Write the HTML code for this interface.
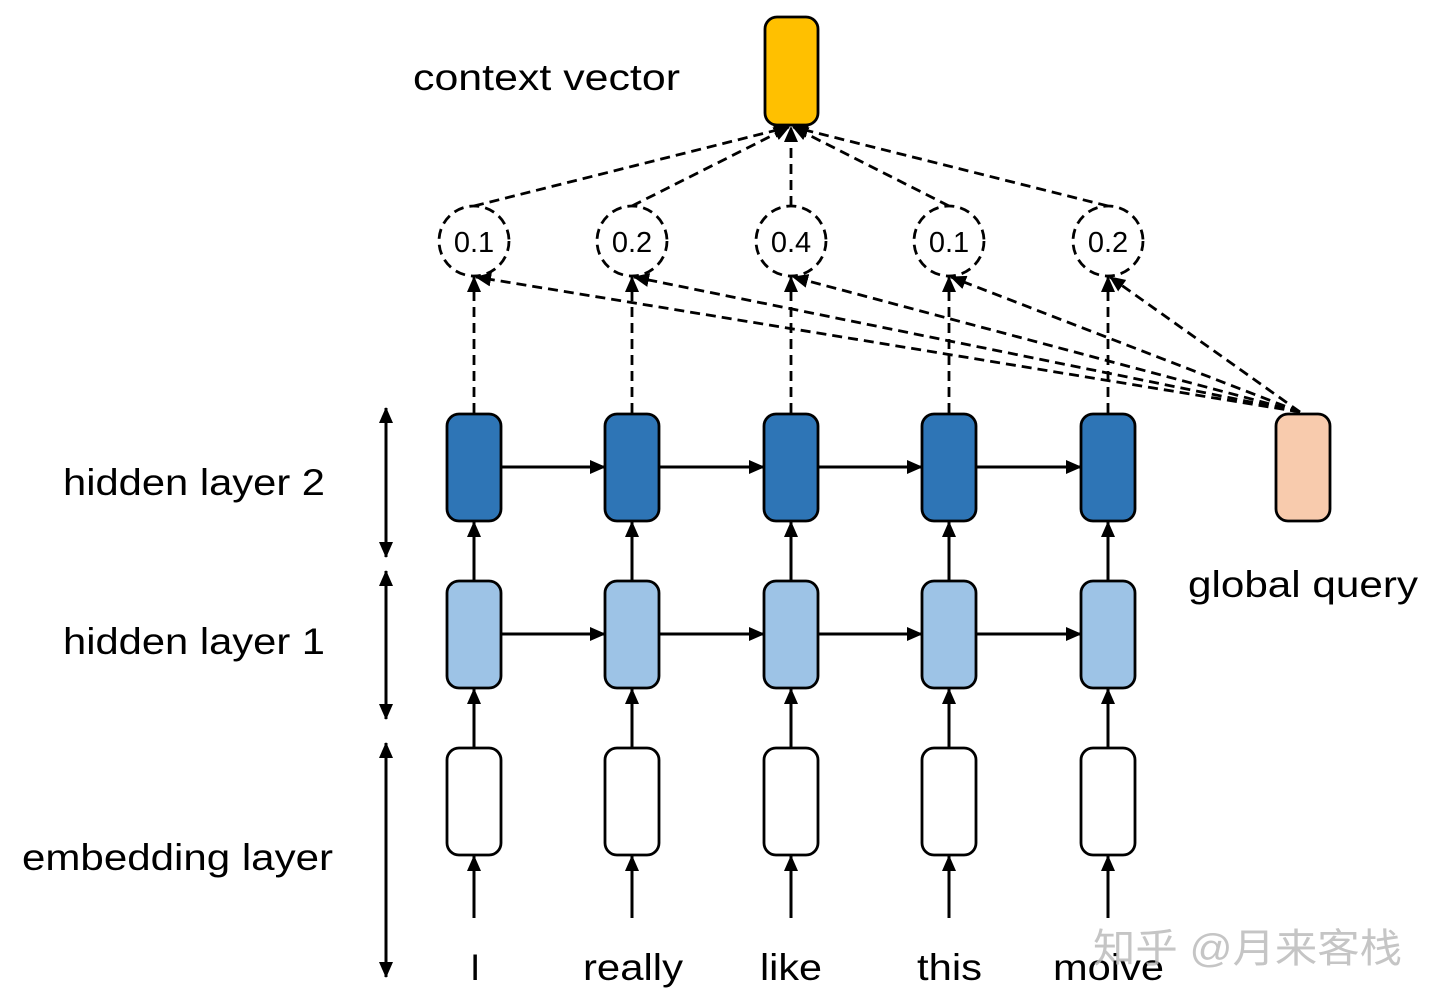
<!DOCTYPE html>
<html><head><meta charset="utf-8"><style>
html,body{margin:0;padding:0;background:#fff;}
svg{display:block;}
text{font-family:"Liberation Sans","Noto Sans CJK SC",sans-serif;fill:#000;}
</style></head><body>
<svg width="1440" height="1007" viewBox="0 0 1440 1007" xmlns="http://www.w3.org/2000/svg">
<defs>
<marker id="ahs" markerWidth="16" markerHeight="14" refX="15" refY="7" orient="auto" markerUnits="userSpaceOnUse" viewBox="0 0 16 14">
<path d="M0,0 L16,7 L0,14 z" fill="#000"/></marker>
</defs>
<g stroke="#000" stroke-width="2.8" fill="none" stroke-dasharray="10,6">
<line x1="474" y1="206" x2="789" y2="127" marker-end="url(#ahs)"/>
<line x1="632" y1="206" x2="789" y2="127" marker-end="url(#ahs)"/>
<line x1="791" y1="206" x2="791" y2="127" marker-end="url(#ahs)"/>
<line x1="949" y1="206" x2="793" y2="127" marker-end="url(#ahs)"/>
<line x1="1108" y1="206" x2="793" y2="127" marker-end="url(#ahs)"/>
<line x1="474" y1="413" x2="474" y2="277" marker-end="url(#ahs)"/>
<line x1="632" y1="413" x2="632" y2="277" marker-end="url(#ahs)"/>
<line x1="791" y1="413" x2="791" y2="277" marker-end="url(#ahs)"/>
<line x1="949" y1="413" x2="949" y2="277" marker-end="url(#ahs)"/>
<line x1="1108" y1="413" x2="1108" y2="277" marker-end="url(#ahs)"/>
<line x1="1300" y1="412" x2="476" y2="277" marker-end="url(#ahs)"/>
<line x1="1300" y1="412" x2="634" y2="277" marker-end="url(#ahs)"/>
<line x1="1300" y1="412" x2="793" y2="277" marker-end="url(#ahs)"/>
<line x1="1300" y1="412" x2="951" y2="277" marker-end="url(#ahs)"/>
<line x1="1300" y1="412" x2="1110" y2="277" marker-end="url(#ahs)"/>
<circle cx="474" cy="241" r="35"/>
<circle cx="632" cy="241" r="35"/>
<circle cx="791" cy="241" r="35"/>
<circle cx="949" cy="241" r="35"/>
<circle cx="1108" cy="241" r="35"/>
</g>
<g font-size="29" text-anchor="middle">
<text x="474" y="252">0.1</text><text x="632" y="252">0.2</text><text x="791" y="252">0.4</text><text x="949" y="252">0.1</text><text x="1108" y="252">0.2</text>
</g>
<g stroke="#000" stroke-width="3">
<line x1="501" y1="467" x2="605" y2="467" marker-end="url(#ahs)"/>
<line x1="659" y1="467" x2="764" y2="467" marker-end="url(#ahs)"/>
<line x1="818" y1="467" x2="922" y2="467" marker-end="url(#ahs)"/>
<line x1="976" y1="467" x2="1081" y2="467" marker-end="url(#ahs)"/>
<line x1="501" y1="634" x2="605" y2="634" marker-end="url(#ahs)"/>
<line x1="659" y1="634" x2="764" y2="634" marker-end="url(#ahs)"/>
<line x1="818" y1="634" x2="922" y2="634" marker-end="url(#ahs)"/>
<line x1="976" y1="634" x2="1081" y2="634" marker-end="url(#ahs)"/>
<line x1="474" y1="580" x2="474" y2="522" marker-end="url(#ahs)"/>
<line x1="632" y1="580" x2="632" y2="522" marker-end="url(#ahs)"/>
<line x1="791" y1="580" x2="791" y2="522" marker-end="url(#ahs)"/>
<line x1="949" y1="580" x2="949" y2="522" marker-end="url(#ahs)"/>
<line x1="1108" y1="580" x2="1108" y2="522" marker-end="url(#ahs)"/>
<line x1="474" y1="747" x2="474" y2="689" marker-end="url(#ahs)"/>
<line x1="632" y1="747" x2="632" y2="689" marker-end="url(#ahs)"/>
<line x1="791" y1="747" x2="791" y2="689" marker-end="url(#ahs)"/>
<line x1="949" y1="747" x2="949" y2="689" marker-end="url(#ahs)"/>
<line x1="1108" y1="747" x2="1108" y2="689" marker-end="url(#ahs)"/>
<line x1="474" y1="918" x2="474" y2="856" marker-end="url(#ahs)"/>
<line x1="632" y1="918" x2="632" y2="856" marker-end="url(#ahs)"/>
<line x1="791" y1="918" x2="791" y2="856" marker-end="url(#ahs)"/>
<line x1="949" y1="918" x2="949" y2="856" marker-end="url(#ahs)"/>
<line x1="1108" y1="918" x2="1108" y2="856" marker-end="url(#ahs)"/>
<line x1="386" y1="420" x2="386" y2="408" marker-end="url(#ahs)"/>
<line x1="386" y1="420" x2="386" y2="557" marker-end="url(#ahs)"/>
<line x1="386" y1="590" x2="386" y2="571" marker-end="url(#ahs)"/>
<line x1="386" y1="590" x2="386" y2="719" marker-end="url(#ahs)"/>
<line x1="386" y1="760" x2="386" y2="743" marker-end="url(#ahs)"/>
<line x1="386" y1="760" x2="386" y2="977" marker-end="url(#ahs)"/>
</g>
<g stroke="#000" stroke-width="2.8">
<rect x="765" y="17" width="53" height="108" rx="12" fill="#FFC000"/>
<rect x="1276" y="414" width="54" height="107" rx="12" fill="#F8CBAD"/>
<g fill="#2E75B6">
<rect x="447" y="414" width="54" height="107" rx="12"/><rect x="605" y="414" width="54" height="107" rx="12"/><rect x="764" y="414" width="54" height="107" rx="12"/><rect x="922" y="414" width="54" height="107" rx="12"/><rect x="1081" y="414" width="54" height="107" rx="12"/>
</g>
<g fill="#9DC3E6">
<rect x="447" y="581" width="54" height="107" rx="12"/><rect x="605" y="581" width="54" height="107" rx="12"/><rect x="764" y="581" width="54" height="107" rx="12"/><rect x="922" y="581" width="54" height="107" rx="12"/><rect x="1081" y="581" width="54" height="107" rx="12"/>
</g>
<g fill="#fff">
<rect x="447" y="748" width="54" height="107" rx="12"/><rect x="605" y="748" width="54" height="107" rx="12"/><rect x="764" y="748" width="54" height="107" rx="12"/><rect x="922" y="748" width="54" height="107" rx="12"/><rect x="1081" y="748" width="54" height="107" rx="12"/>
</g>
</g>
<g font-size="37">
<text x="413" y="90" textLength="267" lengthAdjust="spacingAndGlyphs">context vector</text>
<text x="63" y="495" textLength="262" lengthAdjust="spacingAndGlyphs">hidden layer 2</text>
<text x="63" y="654" textLength="262" lengthAdjust="spacingAndGlyphs">hidden layer 1</text>
<text x="22" y="870" textLength="311" lengthAdjust="spacingAndGlyphs">embedding layer</text>
<text x="1188" y="597" textLength="230" lengthAdjust="spacingAndGlyphs">global query</text>
<text x="470" y="980">I</text>
<text x="583" y="980" textLength="100" lengthAdjust="spacingAndGlyphs">really</text>
<text x="760" y="980" textLength="62" lengthAdjust="spacingAndGlyphs">like</text>
<text x="917" y="980" textLength="65" lengthAdjust="spacingAndGlyphs">this</text>
<text x="1053" y="980" textLength="111" lengthAdjust="spacingAndGlyphs">moive</text>
</g>
<text x="1093" y="962" font-size="40" textLength="309" lengthAdjust="spacingAndGlyphs" style="fill:#bbb;opacity:0.85">知乎 @月来客栈</text>
</svg>
</body></html>
